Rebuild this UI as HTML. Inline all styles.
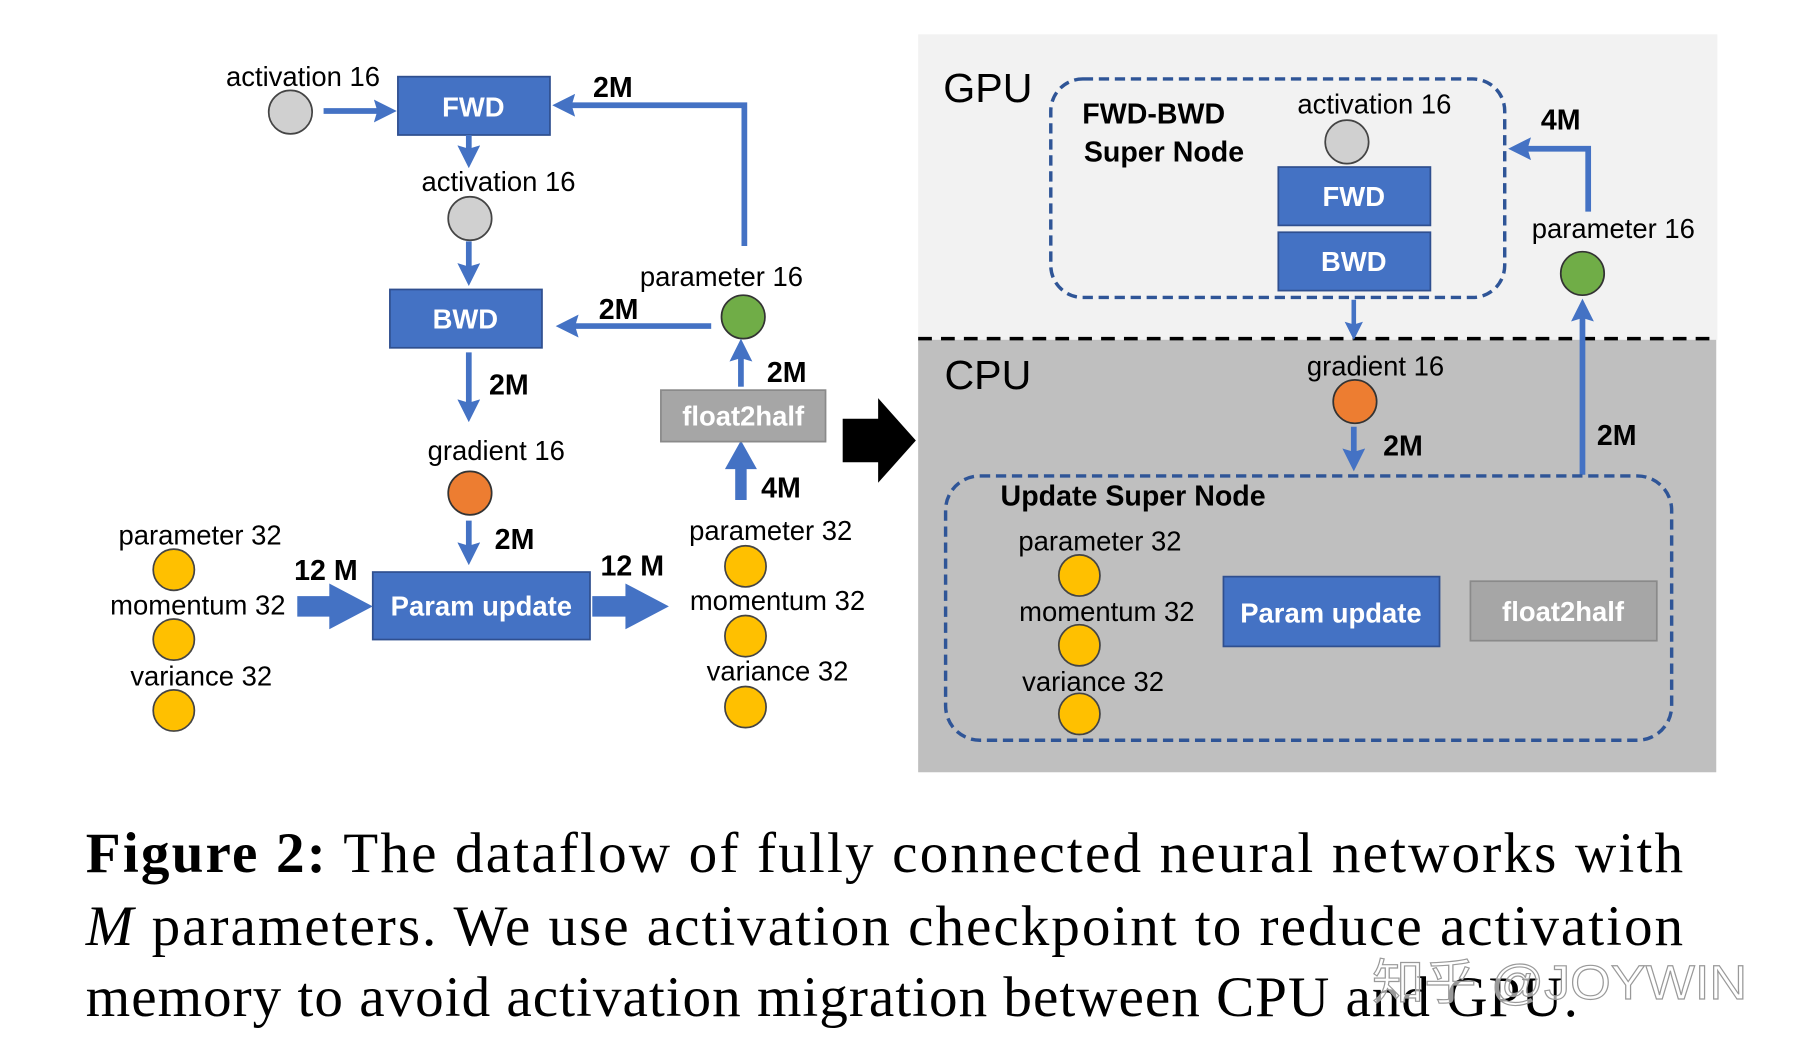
<!DOCTYPE html>
<html><head><meta charset="utf-8"><style>
html,body{margin:0;padding:0;background:#fff;}
svg{display:block;}
</style></head><body>
<svg width="1794" height="1056" viewBox="0 0 1569 923" preserveAspectRatio="none" xmlns="http://www.w3.org/2000/svg">
<defs>
<marker id="ah" markerWidth="4" markerHeight="4" refX="2.2" refY="2" orient="auto" markerUnits="strokeWidth"><path d="M0,0 L4,2 L0,4 L0.6,2 Z" fill="#4472c4"/></marker>
</defs>
<rect width="1569" height="923" fill="#fff"/>
<rect x="803" y="30" width="699" height="267" fill="#f2f2f2"/>
<rect x="803" y="297" width="698" height="378" fill="#bfbfbf"/>
<line x1="803" y1="296" x2="1500" y2="296" stroke="#000" stroke-width="3" stroke-dasharray="12,8"/>
<path d="M737,366 L768,366 L768,348 L801,385 L768,422 L768,404 L737,404 Z" fill="#000"/>

<g font-family="Liberation Sans, sans-serif" font-size="24" fill="#000" text-anchor="middle">
<text x="265" y="75">activation 16</text>
<circle cx="254" cy="98" r="19" fill="#d0d0d0" stroke="#444" stroke-width="1.5"/>
<line x1="283" y1="97" x2="338" y2="97" stroke="#4472c4" stroke-width="5" marker-end="url(#ah)"/>
<rect x="348" y="67" width="133" height="51" fill="#4472c4" stroke="#2f4f8f" stroke-width="1.5"/>
<text x="414" y="102" fill="#fff" font-weight="bold">FWD</text>
<line x1="410" y1="118" x2="410" y2="138" stroke="#4472c4" stroke-width="5" marker-end="url(#ah)"/>
<text x="436" y="167">activation 16</text>
<circle cx="411" cy="191" r="19" fill="#d0d0d0" stroke="#444" stroke-width="1.5"/>
<line x1="410" y1="211" x2="410" y2="241" stroke="#4472c4" stroke-width="5" marker-end="url(#ah)"/>
<rect x="341" y="253" width="133" height="51" fill="#4472c4" stroke="#2f4f8f" stroke-width="1.5"/>
<text x="407" y="287" fill="#fff" font-weight="bold">BWD</text>
<text x="631" y="250">parameter 16</text>
<circle cx="650" cy="277" r="19" fill="#70ad47" stroke="#333" stroke-width="1.5"/>
<line x1="622" y1="285" x2="495" y2="285" stroke="#4472c4" stroke-width="5" marker-end="url(#ah)"/>
<text x="541" y="279" font-weight="bold" font-size="25">2M</text>
<polyline points="651,215 651,92 492,92" fill="none" stroke="#4472c4" stroke-width="5" marker-end="url(#ah)"/>
<text x="536" y="85" font-weight="bold" font-size="25">2M</text>
<line x1="410" y1="308" x2="410" y2="360" stroke="#4472c4" stroke-width="5" marker-end="url(#ah)"/>
<text x="445" y="345" font-weight="bold" font-size="25">2M</text>
<text x="434" y="402">gradient 16</text>
<circle cx="411" cy="431" r="19" fill="#ed7d31" stroke="#333" stroke-width="1.5"/>
<line x1="410" y1="455" x2="410" y2="485" stroke="#4472c4" stroke-width="5" marker-end="url(#ah)"/>
<text x="450" y="480" font-weight="bold" font-size="25">2M</text>
<rect x="326" y="500" width="190" height="59" fill="#4472c4" stroke="#2f4f8f" stroke-width="1.5"/>
<text x="421" y="538" fill="#fff" font-weight="bold">Param update</text>
<text x="175" y="476">parameter 32</text>
<circle cx="152" cy="498" r="18" fill="#ffc000" stroke="#444" stroke-width="1.5"/>
<text x="173" y="537">momentum 32</text>
<circle cx="152" cy="559" r="18" fill="#ffc000" stroke="#444" stroke-width="1.5"/>
<text x="176" y="599">variance 32</text>
<circle cx="152" cy="621" r="18" fill="#ffc000" stroke="#444" stroke-width="1.5"/>
<path d="M260,521 L288,521 L288,510 L326,530 L288,550 L288,539 L260,539 Z" fill="#4472c4"/>
<text x="285" y="507" font-weight="bold" font-size="25">12 M</text>
<path d="M518,521 L547,521 L547,510 L585,530 L547,550 L547,539 L518,539 Z" fill="#4472c4"/>
<text x="553" y="503" font-weight="bold" font-size="25">12 M</text>
<text x="674" y="472">parameter 32</text>
<circle cx="652" cy="495" r="18" fill="#ffc000" stroke="#444" stroke-width="1.5"/>
<text x="680" y="533">momentum 32</text>
<circle cx="652" cy="556" r="18" fill="#ffc000" stroke="#444" stroke-width="1.5"/>
<text x="680" y="595">variance 32</text>
<circle cx="652" cy="618" r="18" fill="#ffc000" stroke="#444" stroke-width="1.5"/>
<path d="M643,437 L643,410 L634,410 L648,385 L662,410 L653,410 L653,437 Z" fill="#4472c4"/>
<text x="683" y="435" font-weight="bold" font-size="25">4M</text>
<rect x="578" y="341" width="144" height="45" fill="#a6a6a6" stroke="#8a8a8a" stroke-width="1.5"/>
<text x="650" y="372" fill="#fff" font-weight="bold">float2half</text>
<line x1="648" y1="338" x2="648" y2="305" stroke="#4472c4" stroke-width="5" marker-end="url(#ah)"/>
<text x="688" y="334" font-weight="bold" font-size="25">2M</text>

<text x="864" y="89" font-size="36">GPU</text>
<rect x="919" y="69" width="397" height="191" rx="28" fill="none" stroke="#2f5597" stroke-width="3" stroke-dasharray="9,5"/>
<text x="1009" y="108" font-weight="bold" font-size="25">FWD-BWD</text>
<text x="1018" y="141" font-weight="bold" font-size="25">Super Node</text>
<text x="1202" y="99">activation 16</text>
<circle cx="1178" cy="124" r="19" fill="#d0d0d0" stroke="#444" stroke-width="1.5"/>
<rect x="1118" y="146" width="133" height="51" fill="#4472c4" stroke="#2f4f8f" stroke-width="1.5"/>
<text x="1184" y="180" fill="#fff" font-weight="bold">FWD</text>
<rect x="1118" y="203" width="133" height="51" fill="#4472c4" stroke="#2f4f8f" stroke-width="1.5"/>
<text x="1184" y="237" fill="#fff" font-weight="bold">BWD</text>
<polyline points="1389,185 1389,130 1328,130" fill="none" stroke="#4472c4" stroke-width="5" marker-end="url(#ah)"/>
<text x="1365" y="113" font-weight="bold" font-size="25">4M</text>
<text x="1411" y="208">parameter 16</text>
<circle cx="1384" cy="239" r="19" fill="#70ad47" stroke="#333" stroke-width="1.5"/>
<line x1="1384" y1="415" x2="1384" y2="270" stroke="#4472c4" stroke-width="5" marker-end="url(#ah)"/>
<text x="1414" y="389" font-weight="bold" font-size="25">2M</text>
<line x1="1184" y1="262" x2="1184" y2="290" stroke="#4472c4" stroke-width="4" marker-end="url(#ah)"/>
<text x="864" y="340" font-size="36">CPU</text>
<text x="1203" y="328">gradient 16</text>
<circle cx="1185" cy="351" r="19" fill="#ed7d31" stroke="#333" stroke-width="1.5"/>
<line x1="1184" y1="373" x2="1184" y2="403" stroke="#4472c4" stroke-width="5" marker-end="url(#ah)"/>
<text x="1227" y="398" font-weight="bold" font-size="25">2M</text>
<rect x="827" y="416" width="635" height="231" rx="30" fill="none" stroke="#2f5597" stroke-width="3" stroke-dasharray="9,5"/>
<text x="991" y="442" font-weight="bold" font-size="25">Update Super Node</text>
<text x="962" y="481">parameter 32</text>
<circle cx="944" cy="503" r="18" fill="#ffc000" stroke="#444" stroke-width="1.5"/>
<text x="968" y="543">momentum 32</text>
<circle cx="944" cy="564" r="18" fill="#ffc000" stroke="#444" stroke-width="1.5"/>
<text x="956" y="604">variance 32</text>
<circle cx="944" cy="624" r="18" fill="#ffc000" stroke="#444" stroke-width="1.5"/>
<rect x="1070" y="504" width="189" height="61" fill="#4472c4" stroke="#2f4f8f" stroke-width="1.5"/>
<text x="1164" y="544" fill="#fff" font-weight="bold">Param update</text>
<rect x="1286" y="508" width="163" height="52" fill="#a6a6a6" stroke="#8a8a8a" stroke-width="1.5"/>
<text x="1367" y="543" fill="#fff" font-weight="bold">float2half</text>
</g>

<g font-family="Liberation Serif, serif" font-size="50" fill="#000">
<text x="75" y="762" textLength="1397" lengthAdjust="spacing"><tspan font-weight="bold">Figure 2:</tspan> The dataflow of fully connected neural networks with</text>
<text x="75" y="826" textLength="1397" lengthAdjust="spacing"><tspan font-style="italic">M</tspan> parameters. We use activation checkpoint to reduce activation</text>
<text x="75" y="888" textLength="1305" lengthAdjust="spacing">memory to avoid activation migration between CPU and GPU.</text>
</g>
<text x="1200" y="873" textLength="328" lengthAdjust="spacingAndGlyphs" font-family="Liberation Sans, Noto Sans CJK SC, sans-serif" font-size="42" fill="#fff" fill-opacity="0.6" stroke="#999" stroke-width="1">知乎 @JOYWIN</text>
</svg>
</body></html>
